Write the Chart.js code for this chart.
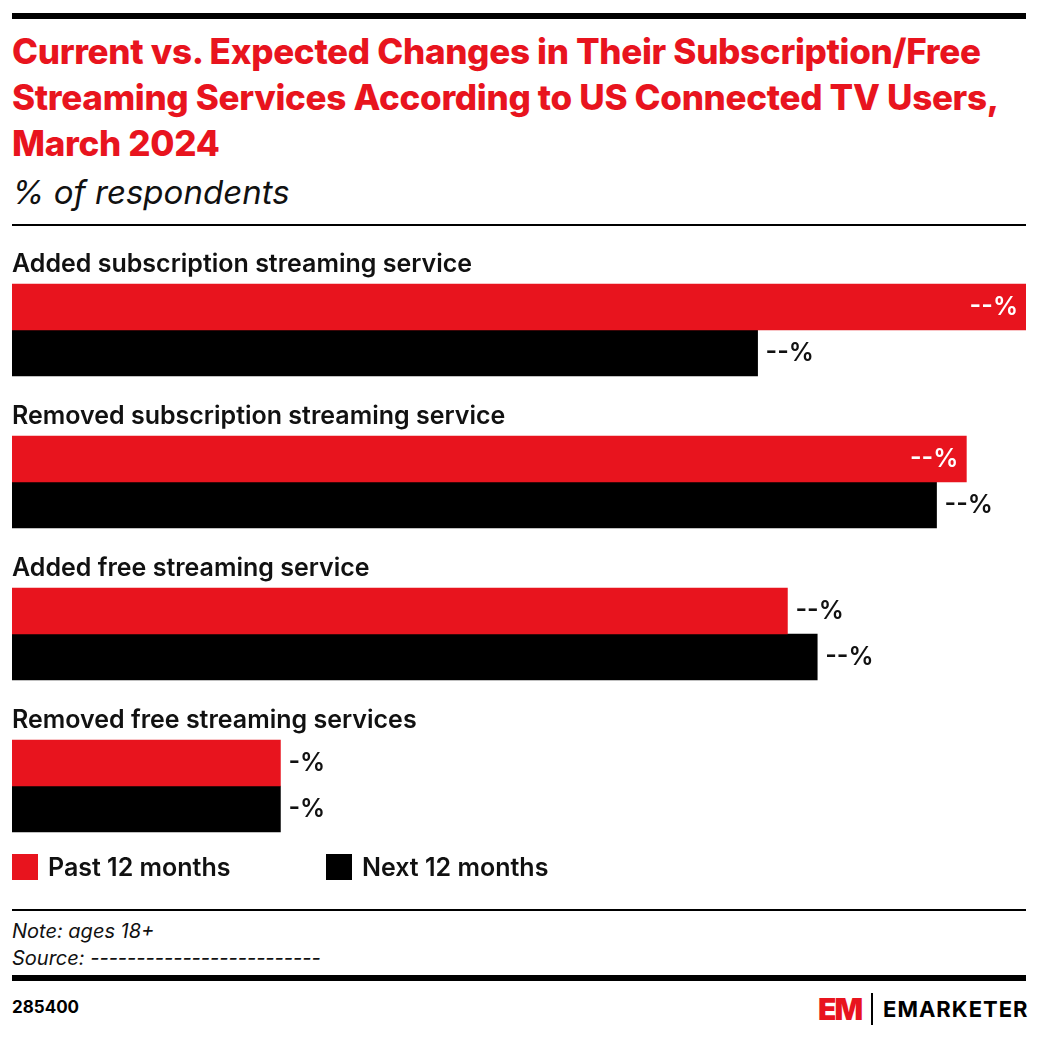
<!DOCTYPE html>
<html><head><meta charset="utf-8">
<script src="https://cdn.jsdelivr.net/npm/chart.js@4"></script>
<style>
body{margin:0;width:1038px;height:1037px;background:#fff;font-family:Inter,"Noto Sans",sans-serif;position:relative;overflow:hidden}
.abs{position:absolute}
#title{left:12px;top:28px;width:1010px;color:#e8141e;font-weight:800;font-size:35px;line-height:46px;letter-spacing:-0.3px}
#sub{left:12px;top:172px;font-style:italic;font-size:33px;color:#111}
.hr{left:12px;width:1014px;background:#000}
#cw{left:12px;top:245px;width:1014px;height:617px}
.leg{top:852px;font-size:25px;font-weight:600;color:#111;display:flex;align-items:center}
.sw{width:26px;height:26px;margin-right:10px;display:inline-block}
#note{left:12px;top:918px;font-size:20px;font-style:italic;line-height:27px;color:#111}
</style></head><body>
<div class="abs hr" style="top:13px;height:6px"></div>
<div id="title" class="abs">Current vs. Expected Changes in Their Subscription/Free Streaming Services According to US Connected TV Users, March 2024</div>
<div id="sub" class="abs">% of respondents</div>
<div class="abs hr" style="top:224px;height:2px"></div>
<div id="cw" class="abs"><canvas id="c"></canvas></div>
<div class="abs leg" style="left:12px"><span class="sw" style="background:#e8141e"></span>Past 12 months</div>
<div class="abs leg" style="left:326px"><span class="sw" style="background:#000"></span>Next 12 months</div>
<div class="abs hr" style="top:909px;height:2px"></div>
<div id="note" class="abs">Note: ages 18+<br>Source: -------------------------</div>
<div class="abs hr" style="top:975px;height:6px"></div>
<div class="abs" style="left:12px;top:997px;font-size:17px;font-weight:700">285400</div>
<div class="abs" style="left:818px;top:991px;display:flex;align-items:center">
<span style="color:#e8141e;font-weight:900;font-size:30px;letter-spacing:-2px">EM</span>
<span style="width:2px;height:32px;background:#000;margin:0 10px"></span>
<span style="font-weight:700;font-size:22px;letter-spacing:1px">EMARKETER</span></div>
<script>
const categories=["Added subscription streaming service","Removed subscription streaming service","Added free streaming service","Removed free streaming services"];
const past12=[34,32,26,9];
const next12=[25,31,27,9];
const pastLabels=["--%","--%","--%","-%"];
const nextLabels=["--%","--%","--%","-%"];
const insideLabel=[true,true,false,false];
const plug={id:'p',afterDatasetsDraw(ch){
 const ctx=ch.ctx;ctx.save();
 ctx.textBaseline='middle';
 const m0=ch.getDatasetMeta(0),m1=ch.getDatasetMeta(1);
 categories.forEach((c,i)=>{
  const b0=m0.data[i],b1=m1.data[i];
  ctx.font='600 25px Inter, "Noto Sans", sans-serif';ctx.fillStyle='#111';ctx.textAlign='left';
  ctx.fillText(c,0,b0.y-23-20);
  ctx.font='600 25px Inter, "Noto Sans", sans-serif';
  if(insideLabel[i]){ctx.fillStyle='#fff';ctx.textAlign='right';ctx.fillText(pastLabels[i],b0.x-8,b0.y);}
  else{ctx.fillStyle='#111';ctx.textAlign='left';ctx.fillText(pastLabels[i],b0.x+8,b0.y);}
  ctx.fillStyle='#111';ctx.textAlign='left';ctx.fillText(nextLabels[i],b1.x+8,b1.y);
 });
 ctx.restore();}};
new Chart(document.getElementById('c'),{type:'bar',
 data:{labels:categories,datasets:[
  {data:past12,backgroundColor:'#e8141e',barThickness:46},
  {data:next12,backgroundColor:'#000',barThickness:46}]},
 options:{indexAxis:'y',responsive:true,maintainAspectRatio:false,animation:false,
  categoryPercentage:0.632,
  layout:{padding:{top:9,left:0,right:0,bottom:0}},
  plugins:{legend:{display:false},tooltip:{enabled:false}},
  scales:{x:{display:false,min:0,max:34},y:{display:false}}},
 plugins:[plug]});
</script></body></html>
